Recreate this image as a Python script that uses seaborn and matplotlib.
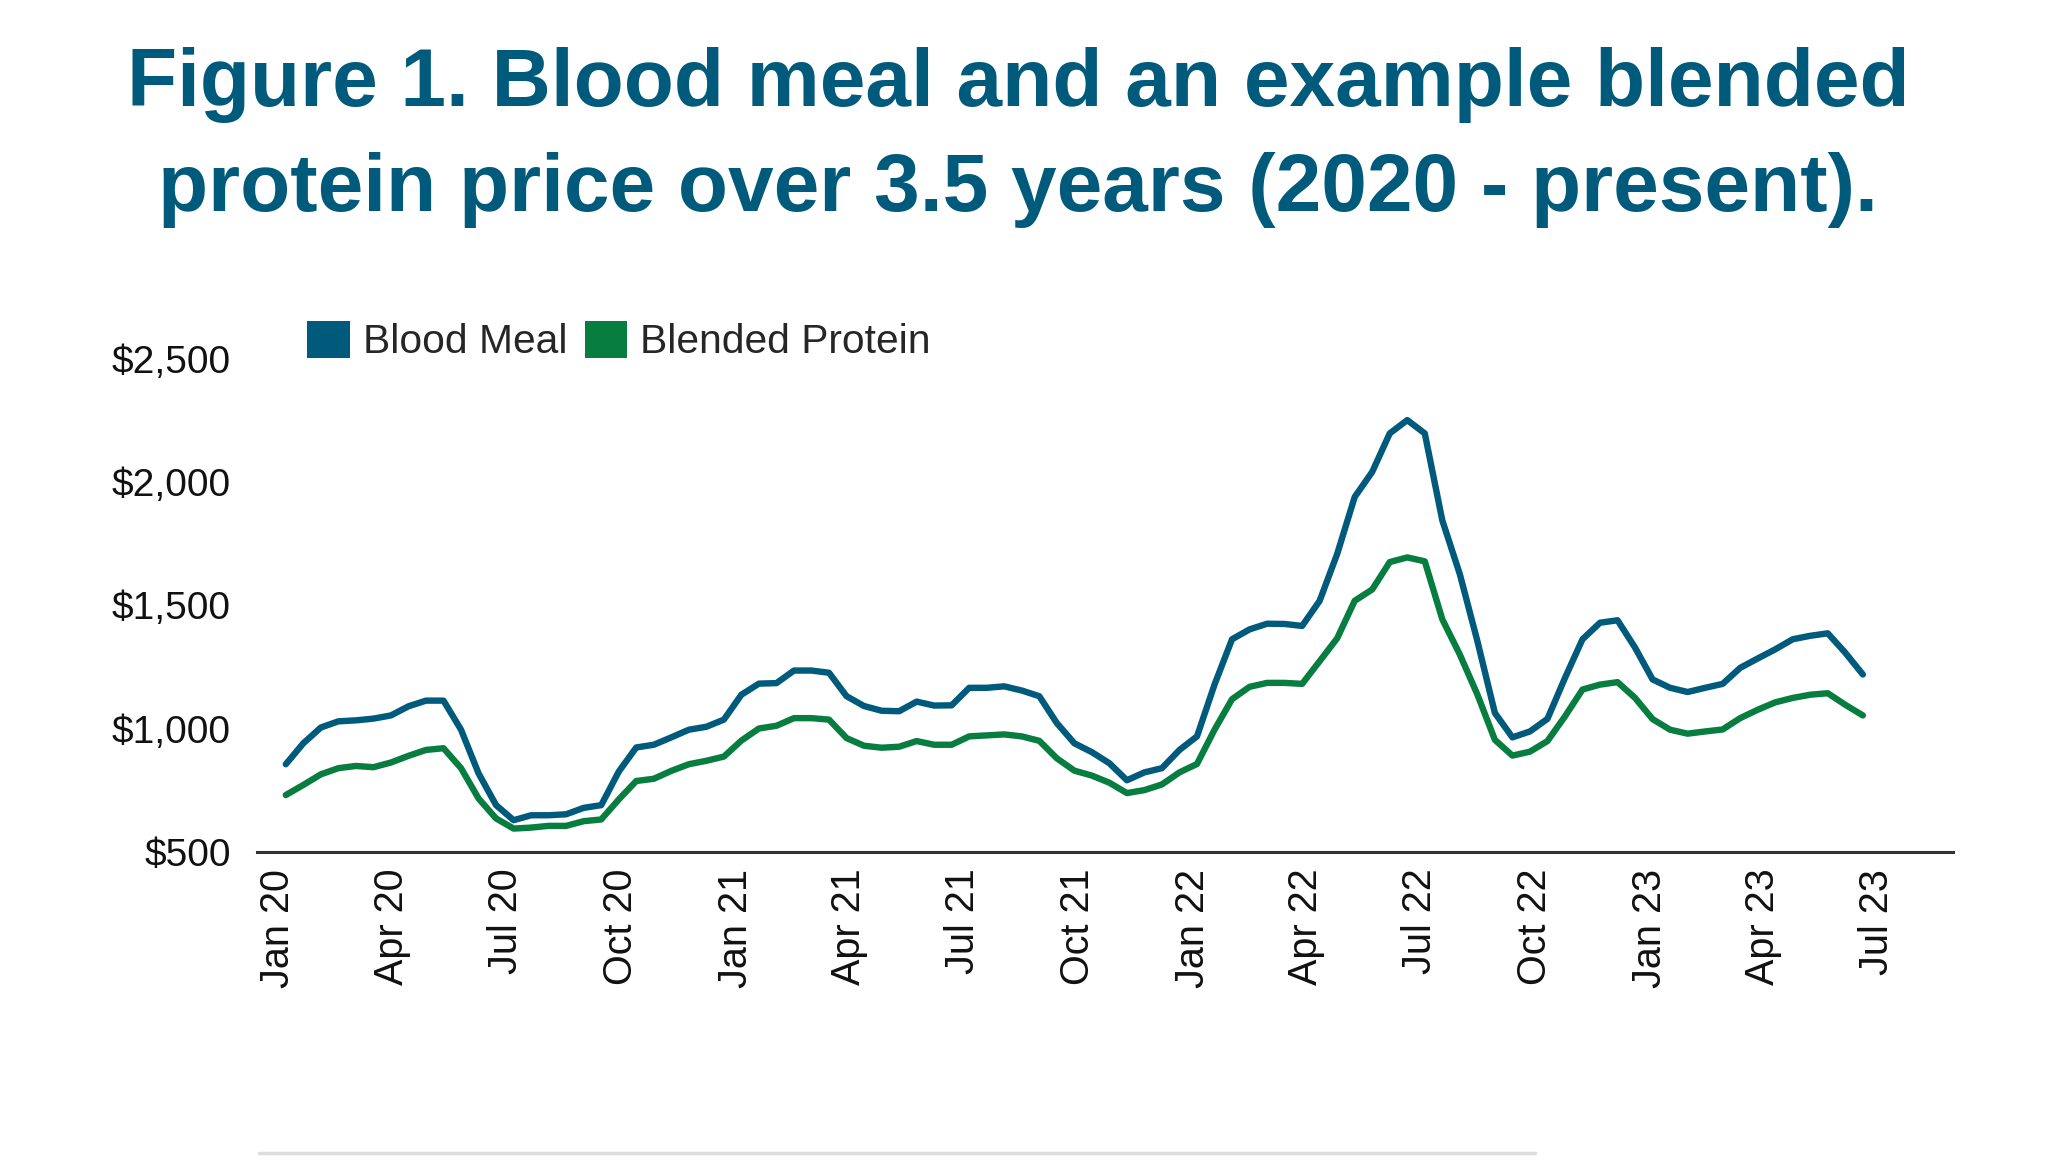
import pandas as pd
import numpy as np
import seaborn as sns
import matplotlib.pyplot as plt
import matplotlib.dates as mdates
from matplotlib.patches import Patch
from matplotlib.lines import Line2D

# bi-weekly prices, Jan 2020 - Jun 2023 ($/ton)
start_date = "2020-01-07"
blood_meal = [856, 941, 1005, 1030, 1034, 1041, 1054, 1091, 1114, 1114,
              996, 819, 690, 629, 649, 649, 653, 679, 690, 826,
              924, 935, 965, 996, 1008, 1037, 1138, 1183, 1185, 1236,
              1236, 1227, 1132, 1092, 1073, 1071, 1110, 1094, 1095, 1166,
              1166, 1172, 1155, 1132, 1023, 941, 905, 860, 791, 823,
              840, 914, 969, 1179, 1363, 1403, 1426, 1425, 1417, 1519,
              1709, 1940, 2042, 2198, 2252, 2198, 1845, 1627, 1356, 1064,
              965, 989, 1040, 1206, 1363, 1430, 1440, 1329, 1200, 1166,
              1149, 1166, 1182, 1247, 1285, 1322, 1363, 1377, 1387, 1308,
              1220]
blended_protein = [731, 772, 815, 840, 849, 844, 863, 890, 914, 921,
                   840, 717, 636, 595, 599, 606, 606, 625, 632, 713,
                   788, 797, 829, 856, 870, 887, 952, 1001, 1012, 1043,
                   1043, 1037, 962, 931, 923, 927, 950, 935, 935, 969,
                   973, 977, 969, 951, 880, 830, 810, 781, 739, 751,
                   774, 823, 857, 996, 1120, 1170, 1186, 1186, 1182, 1274,
                   1367, 1519, 1565, 1676, 1695, 1679, 1444, 1301, 1139, 955,
                   891, 907, 950, 1050, 1159, 1179, 1189, 1125, 1039, 996,
                   980, 989, 997, 1043, 1077, 1107, 1125, 1138, 1144, 1097,
                   1054]
series_names = ["Blood Meal", "Blended Protein"]
y_ticks = [500, 1000, 1500, 2000, 2500]

BLUE = "#005a7c"
GREEN = "#087d40"

dates = pd.date_range(start_date, periods=len(blood_meal), freq="14D")
df = pd.DataFrame({"date": dates,
                   series_names[0]: blood_meal,
                   series_names[1]: blended_protein})
df = df.melt(id_vars="date", var_name="series", value_name="price")

sns.set_theme(style="white")
plt.rcParams['font.family'] = ['Liberation Sans', 'DejaVu Sans']

fig = plt.figure(figsize=(20.48, 11.7), dpi=100)
ax = fig.add_axes([0.1255, 0.2718, 0.8281, 0.4214])

sns.lineplot(data=df, x="date", y="price", hue="series", palette=[BLUE, GREEN],
             linewidth=4.6, ax=ax, legend=False)

ax.set_xlim(pd.Timestamp("2019-12-15"), pd.Timestamp("2023-08-31"))
ax.set_ylim(500, 2500)
ax.set_yticks(y_ticks)
ax.set_yticklabels([f"${v:,}" for v in y_ticks])
ax.xaxis.set_major_locator(mdates.MonthLocator(bymonth=[1, 4, 7, 10]))
ax.xaxis.set_major_formatter(mdates.DateFormatter("%b %y"))
ax.tick_params(axis="x", rotation=90, length=0, pad=12, labelsize=28.5, colors="#111111")
ax.tick_params(axis="y", length=0, pad=19, labelsize=28, colors="#111111")
for lab in ax.get_xticklabels():
    lab.set_va("top")
ax.set_xlabel("")
ax.set_ylabel("")

for side in ["left", "right", "top"]:
    ax.spines[side].set_visible(False)
ax.spines["bottom"].set_color("#333333")
ax.spines["bottom"].set_linewidth(2.2)

handles = [Patch(facecolor=BLUE, edgecolor="none"), Patch(facecolor=GREEN, edgecolor="none")]
fig.legend(handles, series_names, loc="center left", bbox_to_anchor=(0.150, 0.7085),
           ncol=2, frameon=False, fontsize=29.3, handlelength=1.05, handleheight=1.05,
           handletextpad=0.32, columnspacing=0.42, borderpad=0, borderaxespad=0)

fig.text(0.497, 0.927, "Figure 1. Blood meal and an example blended",
         ha="center", va="center", fontsize=59, fontweight="bold", color=BLUE)
fig.text(0.497, 0.838, "protein price over 3.5 years (2020 - present).",
         ha="center", va="center", fontsize=59, fontweight="bold", color=BLUE)

fig.add_artist(Line2D([259 / 2048, 1535 / 2048], [1 - 1153 / 1170] * 2,
                      color="#dddddd", linewidth=2.5))

fig.savefig("out.png", dpi=100)
